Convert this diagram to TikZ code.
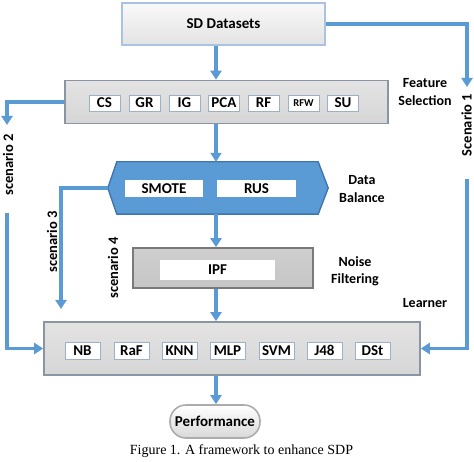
\documentclass[tikz,border=0pt]{standalone}
\usepackage{fontspec}
\newfontfamily\carl{Carlito}
\newfontfamily\tnr{Liberation Serif}
\usetikzlibrary{arrows.meta,calc}
\definecolor{arrblue}{HTML}{5B9BD5}
\definecolor{hexfill}{HTML}{5B9BD5}
\definecolor{hexedge}{HTML}{3F76B0}
\definecolor{sdedge}{HTML}{A9C3E2}
\definecolor{boxedge}{HTML}{8A95A3}
\definecolor{itemedge}{HTML}{9DB0C8}
\definecolor{ipfedge}{HTML}{7A7A7A}
\begin{document}
\begin{tikzpicture}[x=1pt,y=-1pt,
  lbl/.style={font=\carl\bfseries\fontsize{14.5}{17}\selectfont, text=black, align=center, inner sep=0pt},
  item/.style={draw=itemedge, line width=0.6pt, fill=white, font=\carl\bfseries\fontsize{15}{17}\selectfont, inner sep=0pt, minimum height=16pt},
  sdbox/.style={draw=sdedge, line width=1.6pt, top color=gray!5, bottom color=gray!22, inner sep=0pt},
  graybox/.style={draw=boxedge, line width=1.6pt, top color=gray!22, bottom color=gray!32, inner sep=0pt},
  ipfbox/.style={draw=ipfedge, line width=1.6pt, top color=gray!38, bottom color=gray!45, inner sep=0pt},
  pill/.style={draw=gray!65, line width=1.6pt, top color=white, bottom color=gray!30, rounded corners=16pt, inner sep=0pt, font=\carl\bfseries\fontsize{15}{17}\selectfont},
  flow/.style={draw=arrblue, line width=3.2pt},
  arr/.style={flow, -{Triangle[width=11pt,length=9pt]}}
]
\useasboundingbox (0,0) rectangle (474,462);
\coordinate (spine) at (216,0);

% SD Datasets
\node[sdbox, minimum width=203pt, minimum height=42pt, font=\carl\bfseries\fontsize{15}{17}\selectfont] (sd) at (223.5,24) {SD Datasets};

% Feature selection
\node[graybox, minimum width=323pt, minimum height=43pt] (fs) at (226.5,102) {};
\node[item, minimum width=31pt] (cs) at (104.5,103) {CS};
\node[item, minimum width=31pt] (gr) at (144.5,103) {GR};
\node[item, minimum width=31pt] (ig) at (184.5,103) {IG};
\node[item, minimum width=31pt] (pca) at (224,103) {PCA};
\node[item, minimum width=31pt] (rf) at (263.5,103) {RF};
\node[item, minimum width=31pt, font=\carl\bfseries\fontsize{10.5}{12}\selectfont] (rfw) at (303.5,103) {RFW};
\node[item, minimum width=31pt] (su) at (343,103) {SU};
\node[lbl, font=\carl\bfseries\fontsize{14}{18.5}\selectfont] (fslbl) at (425,92) {Feature\\Selection};

% Data balance hexagon
\node[minimum width=201pt, minimum height=52pt, inner sep=0pt] (db) at (217.5,188) {};
\coordinate (dbw) at ($(db.west)+(-9,0)$);
\coordinate (dbe) at ($(db.east)+(10,0)$);
\filldraw[fill=hexfill, draw=hexedge, line width=1.4pt, line join=miter]
  (db.north west) -- (db.north east) -- (dbe) -- (db.south east) -- (db.south west) -- (dbw) -- cycle;
\node[item, minimum width=78pt, minimum height=17pt, draw=none] (smote) at (164,188.5) {SMOTE};
\node[item, minimum width=79pt, minimum height=17pt, draw=none] (rus) at (256.5,188.5) {RUS};
\node[lbl, font=\carl\bfseries\fontsize{14}{18}\selectfont] (dblbl) at (362,189) {Data\\Balance};

% Noise filtering
\node[ipfbox, minimum width=180pt, minimum height=40pt] (ipf) at (223,268) {};
\node[item, minimum width=115pt, minimum height=20pt, draw=none] (ipfin) at (217.5,270) {IPF};
\node[lbl, font=\carl\bfseries\fontsize{14}{17}\selectfont] (nflbl) at (355,271.5) {Noise\\Filtering};

% Learner
\node[graybox, minimum width=376pt, minimum height=53pt] (lr) at (232,348.5) {};
\node[item, minimum width=35pt, minimum height=17pt] (nb) at (82.5,350.5) {NB};
\node[item, minimum width=35pt, minimum height=17pt] (raf) at (131.5,350.5) {RaF};
\node[item, minimum width=35pt, minimum height=17pt] (knn) at (179.5,350.5) {KNN};
\node[item, minimum width=35pt, minimum height=17pt] (mlp) at (227.5,350.5) {MLP};
\node[item, minimum width=35pt, minimum height=17pt] (svm) at (276.5,350.5) {SVM};
\node[item, minimum width=35pt, minimum height=17pt] (j48) at (324.5,350.5) {J48};
\node[item, minimum width=35pt, minimum height=17pt] (dst) at (372.5,350.5) {DSt};
\node[lbl, font=\carl\bfseries\fontsize{14}{17}\selectfont] (lrlbl) at (425,303) {Learner};

% Performance
\node[pill, minimum width=90pt, minimum height=33pt] (perf) at (215,421.5) {Performance};

% Caption
\node[font=\tnr\fontsize{14}{16}\selectfont, inner sep=0pt] (cap) at (241.5,451) {Figure 1. A framework to enhance SDP};

% Scenario labels
\node[lbl, rotate=90] (sc1) at (466.5,125) {Scenario 1};
\node[lbl, rotate=90] (sc2) at (8,165) {scenario 2};
\node[lbl, rotate=90] (sc3) at (52,242) {scenario 3};
\node[lbl, rotate=90] (sc4) at (113,268) {scenario 4};

% Scenario connector ends
\coordinate (s1top) at (467,87);
\coordinate (s1bot) at (467,179);
\coordinate (s2top) at (7,125);
\coordinate (s2bot) at (7,213);
\coordinate (s3end) at (61,309);

% Main flow
\draw[arr] (spine |- sd.south) -- (spine |- fs.north);
\draw[arr] (spine |- fs.south) -- (spine |- db.north);
\draw[arr] (spine |- db.south) -- (spine |- ipf.north);
\draw[arr] (spine |- ipf.south) -- (spine |- lr.north);
\draw[arr] (spine |- lr.south) -- (spine |- perf.north);

% Scenario flows
\draw[arr] (sd.east) -| (s1top);
\draw[arr] (s1bot) |- (lr.east);
\draw[arr] (fs.west) -| (s2top);
\draw[arr] (s2bot) |- (lr.west);
\draw[arr] (dbw) -| (s3end);
\end{tikzpicture}
\end{document}
